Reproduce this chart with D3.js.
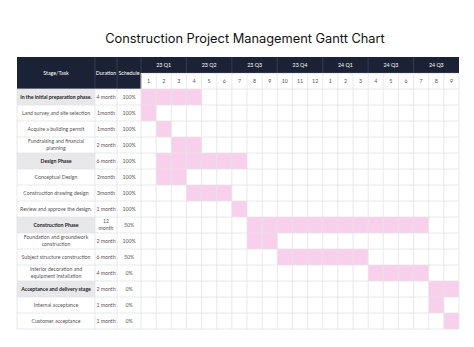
<!DOCTYPE html>
<html>
<head>
<meta charset="utf-8">
<script src="https://cdn.jsdelivr.net/npm/d3@7"></script>
<style>
  html, body { margin: 0; padding: 0; background: #fff; }
  svg { display: block; font-family: "Lato", "Open Sans", sans-serif; }
</style>
</head>
<body>
<svg id="chart" width="474" height="347"></svg>
<script>
// Tasks and schedule
const tasks = [
  "In the initial preparation phase.",
  "Land survey and site selection",
  "Acquire a building permit",
  "Fundraising and financial planning",
  "Design Phase",
  "Conceptual Design",
  "Construction drawing design",
  "Review and approve the design.",
  "Construction Phase",
  "Foundation and groundwork construction",
  "Subject structure construction",
  "Interior decoration and equipment installation",
  "Acceptance and delivery stage",
  "Internal acceptance",
  "Customer acceptance"
];
const isPhase = [true, false, false, false, true, false, false, false, true, false, false, false, true, false, false];
const durations = ["4 month", "1month", "1month", "2 month", "6 month", "2month", "3month", "1 month", "12 month", "2 month", "6 month", "4 month", "2 month", "1 month", "1 month"];
const schedules = ["100%", "100%", "100%", "100%", "100%", "100%", "100%", "100%", "50%", "100%", "50%", "0%", "0%", "0%", "0%"];
const startMonth = [1, 1, 2, 3, 2, 2, 4, 7, 8, 8, 10, 16, 20, 20, 21];
const lengthMonths = [4, 1, 1, 2, 6, 2, 3, 1, 12, 2, 6, 4, 2, 1, 1];

// Timeline header
const quarters = ["23 Q1", "23 Q2", "23 Q3", "23 Q4", "24 Q1", "24 Q3", "24 Q3"];
const monthLabels = ["1", "2", "3", "4", "5", "6", "7", "8", "9", "10", "11", "12", "1", "2", "3", "4", "5", "6", "7", "8", "9"];

const svg = d3.select("#chart");
const dark = "#1c2236";
const pink = "#f8d0ec";
const grid = "#e3e3e6";
const textGray = "#555";

const tableLeft = 17, tableRight = 459, tableTop = 57, headH = 32;
const colTask = [17, 95], colDur = [95, 117], colSch = [117, 141];
const timeX = d3.scaleLinear().domain([0, monthLabels.length]).range([141, tableRight]);
const rowY = d3.scaleBand().domain(d3.range(tasks.length)).range([tableTop + headH, 329]);
const rh = rowY.bandwidth();
const bottom = rowY.range()[1];

// Title
svg.append("text")
  .attr("x", 245).attr("y", 43)
  .attr("text-anchor", "middle")
  .attr("font-size", 12.8)
  .attr("font-family", "Inter, sans-serif")
  .attr("fill", "#111")
  .text("Construction Project Management Gantt Chart");

// Header background: left columns span both rows, quarter row is dark
svg.append("rect").attr("x", tableLeft).attr("y", tableTop).attr("width", colSch[1] - tableLeft).attr("height", headH).attr("fill", dark);
svg.append("rect").attr("x", timeX(0)).attr("y", tableTop).attr("width", timeX(monthLabels.length) - timeX(0)).attr("height", headH / 2).attr("fill", dark);

const headCols = [["Stage/Task", colTask], ["Duration", colDur], ["Schedule", colSch]];
headCols.forEach(([label, c]) => {
  svg.append("text")
    .attr("x", (c[0] + c[1]) / 2).attr("y", tableTop + headH / 2 + 2)
    .attr("text-anchor", "middle").attr("font-size", 5.3).attr("fill", "#fff")
    .text(label);
});
// Header column separators
[colDur[0], colSch[0], colSch[1]].forEach(x => {
  svg.append("line").attr("x1", x).attr("x2", x).attr("y1", tableTop).attr("y2", tableTop + headH)
    .attr("stroke", "#3a4058").attr("stroke-width", 0.8);
});

// Quarter labels and separators
quarters.forEach((q, i) => {
  const x0 = timeX(i * 3), x1 = timeX(i * 3 + 3);
  svg.append("text")
    .attr("x", (x0 + x1) / 2).attr("y", tableTop + headH / 4 + 2)
    .attr("text-anchor", "middle").attr("font-size", 5.3).attr("fill", "#fff")
    .text(q);
  if (i > 0) {
    svg.append("line").attr("x1", x0).attr("x2", x0).attr("y1", tableTop).attr("y2", tableTop + headH / 2)
      .attr("stroke", "#3a4058").attr("stroke-width", 0.8);
  }
});

// Month labels
monthLabels.forEach((m, i) => {
  svg.append("text")
    .attr("x", (timeX(i) + timeX(i + 1)) / 2).attr("y", tableTop + headH * 0.75 + 2)
    .attr("text-anchor", "middle").attr("font-size", 5.3).attr("fill", textGray)
    .text(m);
});

// Phase row task-cell shading
tasks.forEach((t, i) => {
  if (isPhase[i]) {
    svg.append("rect").attr("x", colTask[0]).attr("y", rowY(i))
      .attr("width", colTask[1] - colTask[0]).attr("height", rh).attr("fill", "#e8e8ea");
  }
});

// Gantt bars
svg.append("g").selectAll("rect").data(tasks).join("rect")
  .attr("x", (d, i) => timeX(startMonth[i] - 1))
  .attr("y", (d, i) => rowY(i))
  .attr("width", (d, i) => timeX(startMonth[i] - 1 + lengthMonths[i]) - timeX(startMonth[i] - 1))
  .attr("height", rh)
  .attr("fill", pink);

// Grid lines
const g = svg.append("g").attr("stroke", grid).attr("stroke-width", 0.8);
d3.range(tasks.length + 1).forEach(i => {
  const y = i === tasks.length ? bottom : rowY(i);
  g.append("line").attr("x1", tableLeft).attr("x2", tableRight).attr("y1", y).attr("y2", y);
});
g.append("line").attr("x1", timeX(0)).attr("x2", tableRight)
  .attr("y1", tableTop + headH / 2 + 0.4).attr("y2", tableTop + headH / 2 + 0.4);
[tableLeft, colDur[0], colSch[0]].forEach(x => {
  g.append("line").attr("x1", x).attr("x2", x).attr("y1", tableTop + headH).attr("y2", bottom);
});
d3.range(monthLabels.length + 1).forEach(i => {
  g.append("line").attr("x1", timeX(i)).attr("x2", timeX(i))
    .attr("y1", tableTop + headH / 2).attr("y2", bottom);
});

// Cell text, wrapped on measured width
function cellText(x0, x1, yTop, str, opts) {
  const maxW = x1 - x0 - opts.pad;
  const fs = opts.size;
  const t = svg.append("text")
    .attr("text-anchor", "middle").attr("font-size", fs)
    .attr("fill", opts.color).attr("font-weight", opts.bold ? "bold" : "normal");
  const probe = t.append("tspan");
  const words = str.split(" ");
  const lines = [];
  let cur = "";
  words.forEach(w => {
    const test = cur ? cur + " " + w : w;
    probe.text(test);
    if (probe.node().getComputedTextLength() > maxW && cur) { lines.push(cur); cur = w; }
    else cur = test;
  });
  if (cur) lines.push(cur);
  probe.remove();
  const lh = fs * 1.3;
  const cy = yTop + rh / 2;
  const startY = cy - (lines.length - 1) * lh / 2 + fs * 0.35;
  lines.forEach((ln, k) => {
    t.append("tspan").attr("x", (x0 + x1) / 2).attr("y", startY + k * lh).text(ln);
  });
}

tasks.forEach((t, i) => {
  const y = rowY(i);
  cellText(colTask[0], colTask[1], y, t, { size: 5.2, pad: 2, color: isPhase[i] ? "#222" : textGray, bold: isPhase[i] });
  cellText(colDur[0], colDur[1], y, durations[i], { size: 5.2, pad: 2, color: textGray });
  cellText(colSch[0], colSch[1], y, schedules[i], { size: 5.2, pad: 2, color: textGray });
});
</script>
</body>
</html>
